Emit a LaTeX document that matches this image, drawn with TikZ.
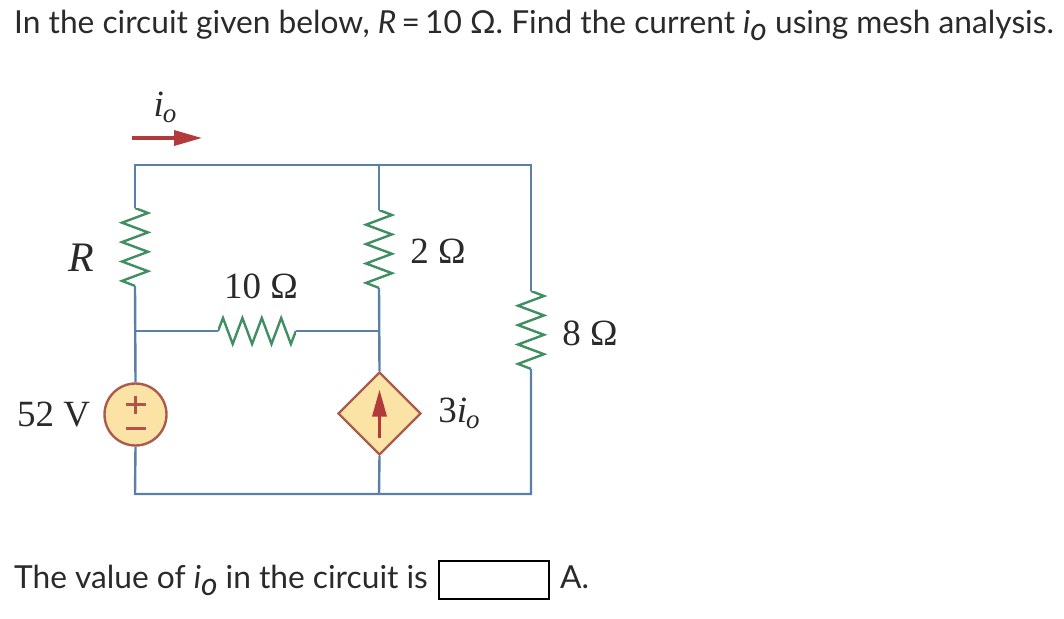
\documentclass[tikz,border=0pt]{standalone}
\usepackage{fontspec}
\setmainfont{Lato}
\newfontfamily\bookfont{Liberation Serif}
\usepackage{xcolor}
\usetikzlibrary{calc, positioning, arrows.meta, shapes.geometric}
\definecolor{wireblue}{HTML}{5B80A8}
\definecolor{zigreen}{HTML}{3F8F62}
\definecolor{srcedge}{HTML}{AD5A4E}
\definecolor{srcfill}{HTML}{FBE3A6}
\definecolor{arrowred}{HTML}{B23A3A}
\definecolor{inktext}{HTML}{2A2A2A}
\newcommand{\ioBook}{\textit{i}\kern-1pt\raisebox{-6pt}{\fontsize{27}{27}\selectfont\textit{o}}}
\newcommand{\ioText}{\textit{i}\raisebox{-7pt}{\textit{o}}}
\tikzset{
    wire/.style={draw=wireblue, line width=2.4pt},
    zig/.style={draw=zigreen, line width=2.4pt},
    vres/.style={
        rectangle, inner sep=0pt, minimum width=34pt, minimum height=78pt,
        path picture={\draw[zig, xscale=#1] (path picture bounding box.north) -- ++(13,5)
            -- ++(-26,9.7) -- ++(26,9.7) -- ++(-26,9.7) -- ++(26,9.7)
            -- ++(-26,9.7) -- ++(26,9.7) -- ++(-26,9.7) -- ++(13,5);}
    },
    hres/.style={
        rectangle, inner sep=0pt, minimum width=78pt, minimum height=34pt,
        path picture={\draw[zig] (path picture bounding box.west) -- ++(5,-13)
            -- ++(9.7,26) -- ++(9.7,-26) -- ++(9.7,26) -- ++(9.7,-26)
            -- ++(9.7,26) -- ++(9.7,-26) -- ++(9.7,26) -- ++(5,-13);}
    },
    indep/.style={circle, draw=srcedge, fill=srcfill, line width=2.4pt, minimum size=62pt, inner sep=0pt},
    dep/.style={diamond, draw=srcedge, fill=srcfill, line width=2.4pt, minimum size=83pt, inner sep=0pt, aspect=1},
    redarrow/.style={draw=arrowred, line width=3.4pt, -{Triangle[length=28pt, width=15pt]}},
    sign/.style={draw=srcedge!80!arrowred, line width=2.2pt},
    booklabel/.style={font=\bookfont\fontsize{37}{40}\selectfont, text=inktext, inner sep=0pt},
    sanstext/.style={font=\fontsize{31.7}{36}\selectfont, text=inktext, inner sep=0pt, anchor=base west},
    answer/.style={rectangle, draw=black, line width=2pt, minimum width=110pt, minimum height=38pt, inner sep=0pt}
}
\begin{document}
\begin{tikzpicture}[x=1pt, y=-1pt]
    \useasboundingbox (0,0) rectangle (1064,618);

    % Corners and junctions
    \coordinate (TopL) at (135,165);
    \coordinate (TopM) at (379,165);
    \coordinate (TopR) at (531,165);
    \coordinate (BotL) at (135,494);
    \coordinate (BotM) at (379,494);
    \coordinate (BotR) at (531,494);
    \coordinate (MidL) at (135,331);
    \coordinate (MidM) at (379,331);

    % Resistors
    \node[vres=1] (ResR) at (135,247) {};
    \node[vres=-1] (ResTwo) at (379,249) {};
    \node[vres=-1] (ResEight) at (531,330) {};
    \node[hres] (ResTen) at (257,331) {};

    % Sources
    \node[indep] (Vsrc) at (135.5,414.5) {};
    \node[dep] (Isrc) at (379.5,413.5) {};

    % Wires
    \draw[wire, line join=miter] (ResR.north) -- (TopL) -- (TopR) -- (ResEight.north);
    \draw[wire] (TopM) -- (ResTwo.north);
    \draw[wire] (ResR.south) -- (Vsrc.north);
    \draw[wire] (MidL) -- (ResTen.west);
    \draw[wire] (ResTen.east) -- (MidM);
    \draw[wire] (ResTwo.south) -- (Isrc.north);
    \draw[wire, line join=miter] (Vsrc.south) -- (BotL) -- (BotR) -- (ResEight.south);
    \draw[wire] (Isrc.south) -- (BotM);

    % Source marks
    \coordinate (PlusT) at ($(Vsrc.center)+(0,-19)$);
    \coordinate (PlusB) at ($(Vsrc.center)+(0,-1)$);
    \coordinate (PlusL) at ($(Vsrc.center)+(-10,-10)$);
    \coordinate (PlusR) at ($(Vsrc.center)+(10,-10)$);
    \coordinate (MinusL) at ($(Vsrc.center)+(-10,14)$);
    \coordinate (MinusR) at ($(Vsrc.center)+(10,14)$);
    \draw[sign] (PlusT) -- (PlusB) (PlusL) -- (PlusR) (MinusL) -- (MinusR);
    \coordinate (UpTail) at ($(Isrc.center)+(0,24)$);
    \coordinate (UpTip) at ($(Isrc.center)+(0,-24)$);
    \draw[redarrow, -{Triangle[length=27pt, width=14pt]}] (UpTail) -- (UpTip);

    % Current marker
    \coordinate (IoTail) at (132,138);
    \coordinate (IoTip) at (202,138);
    \draw[redarrow] (IoTail) -- (IoTip);
    \node[booklabel] (IoLabel) at (165,107) {\ioBook};

    % Labels
    \node[booklabel, font=\bookfont\fontsize{42}{44}\selectfont, left=41pt of ResR.center, yshift=-11pt] (LabR) {\textit{R}};
    \node[booklabel, above=15pt of ResTen, xshift=4pt] (LabTen) {10 Ω};
    \node[booklabel, right=14pt of ResTwo, yshift=-2pt] (LabTwo) {2 Ω};
    \node[booklabel, right=14pt of ResEight, yshift=-3pt] (LabEight) {8 Ω};
    \node[booklabel, left=13pt of Vsrc] (LabV) {52 V};
    \node[booklabel, right=16pt of Isrc] (LabI) {3\ioBook};

    % Question text
    \node[sanstext] (Title) at (14,34) {In the circuit given below, \textit{R}\,=\,10 Ω. Find the current \ioText{} using mesh analysis.};
    \node[sanstext] (Ask) at (14,588) {The value of \ioText{} in the circuit is};
    \node[answer] (Blank) at (494,580) {};
    \node[sanstext] (Unit) at (560,588) {A.};
\end{tikzpicture}
\end{document}
